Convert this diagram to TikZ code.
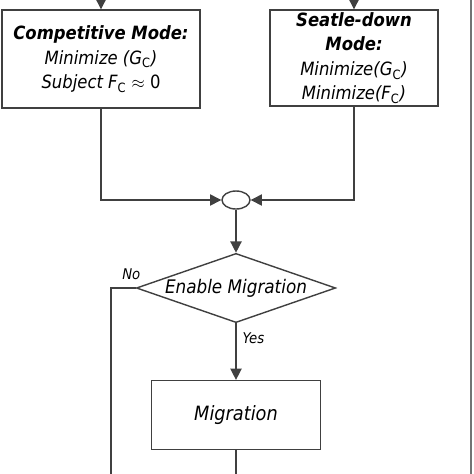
\documentclass[tikz,border=0pt]{standalone}
\usepackage{fontspec}
\setmainfont{DejaVu Sans Condensed}
\usetikzlibrary{arrows.meta,shapes.geometric}
\tikzset{
  mode box/.style={draw=black!75,line width=1pt,align=center,inner sep=0pt,font=\fontsize{13}{17.5}\selectfont\itshape},
  join node/.style={ellipse,draw=black!75,line width=1pt,minimum width=0.7cm,minimum height=0.45cm,inner sep=0pt},
  test node/.style={diamond,draw=black!75,line width=1pt,minimum width=4.98cm,minimum height=1.73cm,inner sep=0pt,shape aspect=2.88,font=\fontsize{13.3}{16}\selectfont\itshape},
  flow edge/.style={-{Triangle[length=2.8mm,width=2.8mm]},draw=black!75,line width=1pt},
  flow line/.style={draw=black!75,line width=1pt},
  branch label/.style={font=\fontsize{10.5}{12}\selectfont\itshape,inner sep=1pt},
}
\newcommand{\sub}[1]{\textsubscript{\upshape #1}}
\begin{document}
\begin{tikzpicture}[x=0.025cm,y=-0.025cm]
  \useasboundingbox (0,0) rectangle (474,474);
  \node[mode box,minimum width=4.95cm,minimum height=2.45cm] (comp) at (101,59)
    {{\bfseries Competitive Mode:}\\Minimize (G\sub{C})\\Subject F\sub{C} \upshape$\approx$ 0};
  \node[mode box,minimum width=4.2cm,minimum height=2.4cm] (settle) at (354,58)
    {{\bfseries Seatle-down}\\{\bfseries Mode:}\\Minimize(G\sub{C})\\Minimize(F\sub{C})};
  \node[join node] (join) at (236,200) {};
  \node[test node] (enable) at (236,288) {Enable Migration};
  \node[mode box,minimum width=4.22cm,minimum height=1.72cm,font=\fontsize{14}{16}\selectfont\itshape] (migr) at (236,415) {Migration};
  \node[branch label,anchor=south east] (no) at (142,281) {No};
  \node[branch label,anchor=west] (yes) at (241,338) {Yes};
  \coordinate (compin) at (101,0);
  \coordinate (settlein) at (354,0);
  \coordinate (loopl) at (111,474);
  \coordinate (migrout) at (236,474);
  \coordinate (loopt) at (471,0);
  \coordinate (loopb) at (471,474);
  \draw[flow edge] (compin)--(comp.north);
  \draw[flow edge] (settlein)--(settle.north);
  \draw[flow edge] (comp.south)|-(join.west);
  \draw[flow edge] (settle.south)|-(join.east);
  \draw[flow edge] (join.south)--(enable.north);
  \draw[flow edge] (enable.south)--(migr.north);
  \draw[flow line] (enable.west)-|(loopl);
  \draw[flow line] (migr.south)--(migrout);
  \draw[flow line,draw=black!55,line width=1.3pt] (loopt)--(loopb);
\end{tikzpicture}
\end{document}
